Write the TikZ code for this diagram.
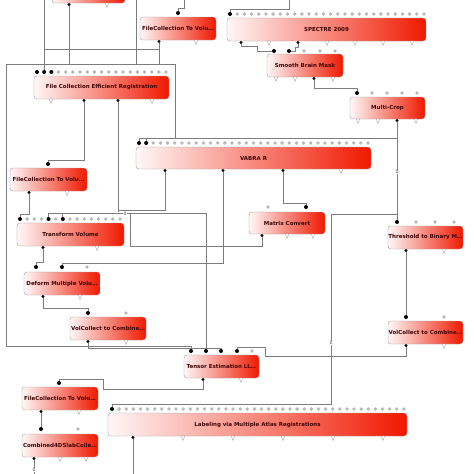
\documentclass[tikz,border=0pt]{standalone}
\usepackage{fontspec}
\setsansfont{DejaVu Sans}
\definecolor{modred}{RGB}{240,24,0}
\definecolor{modtxt}{RGB}{64,4,4}
\definecolor{wirecol}{RGB}{125,125,125}
\tikzset{
  module/.style={draw=gray!75, rounded corners=3pt, left color=red!3, right color=modred,
    font=\sffamily\bfseries\fontsize{5.5}{6}\selectfont, text=modtxt, inner sep=0pt},
  wire/.style={draw=wirecol, line width=0.7pt},
  inport/.style={circle, fill=black, inner sep=0pt, minimum size=4pt},
  outport/.style={circle, fill=black, inner sep=0pt, minimum size=3.2pt},
  free/.style={fill=gray!55},
  zero/.style={font=\sffamily\fontsize{4.6}{5}\selectfont, fill=white, inner sep=0.3pt, text=black!75},
  otri/.pic={\draw[gray!70, fill=white, line width=0.4pt] (-1.7,0) -- (1.7,0) -- (0,4.5) -- cycle;}
}
% module box from (x1,y1) to (x2,y2)
\newcommand\module[6]{\node[module, minimum width={#4-#2}, minimum height={#5-#3}] (#1) at ({(#2+#4)/2},{(#3+#5)/2}) {#6};}

\begin{document}
\begin{tikzpicture}[x=1pt,y=-1pt]
\useasboundingbox (0,0) rectangle (474,474);
\clip (0,0) rectangle (474,474);
\fill[white] (0,0) rectangle (474,474);

% modules
\module{tl}{52}{-20}{125}{3}{}
\module{fcv1}{140}{17}{216}{40}{FileCollection To Volu…}
\module{spec}{227}{18}{426}{41}{SPECTRE 2009}
\module{smooth}{267}{54}{343}{77}{Smooth Brain Mask}
\module{mc}{350}{97}{425}{119}{Multi-Crop}
\module{fcer}{34}{76}{169}{99}{File Collection Efficient Registration}
\module{vabra}{136}{147}{371}{169}{VABRA R}
\module{fcv2}{10}{168}{87}{191}{FileCollection To Volu…}
\module{tv}{17}{223}{124}{246}{Transform Volume}
\module{matrix}{249}{212}{325}{234}{Matrix Convert}
\module{thr}{388}{226}{463}{249}{Threshold to Binary M…}
\module{deform}{24}{272}{100}{295}{Deform Multiple Volu…}
\module{vcl}{70}{317}{146}{340}{VolCollect to Combine…}
\module{vcr}{388}{321}{463}{344}{VolCollect to Combine…}
\module{tens}{184}{355}{259}{378}{Tensor Estimation LL…}
\module{fcv3}{22}{387}{98}{410}{FileCollection To Volu…}
\module{comb}{22}{434}{98}{457}{Combined4DSlabColle…}
\module{lab}{108}{413}{407}{436}{Labeling via Multiple Atlas Registrations}

% free input ports
\foreach \i in {0,...,27} \fill[free] ({230+7.185*\i},14) circle (1.9);
\foreach \i in {0,...,18} \fill[free] ({37+7.17*\i},72) circle (1.9);
\foreach \i in {0,...,32} \fill[free] ({139+7.156*\i},143) circle (1.9);
\foreach \i in {0,...,14} \fill[free] ({20+7.14*\i},219) circle (1.9);
\foreach \i in {0,...,41} \fill[free] ({112+7.12*\i},409) circle (1.9);
\foreach \x in {304,320,335} \fill[free] (\x,51) circle (1.9);
\foreach \x in {372,387,402,417} \fill[free] (\x,93) circle (1.9);
\foreach \x in {416,435,454} \fill[free] (\x,222) circle (1.9);
\fill[free] (268,207) circle (1.9);
\fill[free] (87,267) circle (1.9);
\fill[free] (126,313) circle (1.9);
\fill[free] (444,317) circle (1.9);
\fill[free] (252,351) circle (1.9);
\fill[free] (78,429) circle (1.9);

% connected input ports
\node[inport] (fcv1-i) at (178,13) {};
\node[inport] (spec-i) at (230,14) {};
\node[inport] (smooth-i1) at (274,51) {};
\node[inport] (smooth-i2) at (289,51) {};
\node[inport] (mc-i) at (357,93) {};
\node[inport] (fcer-i1) at (37,72) {};
\node[inport] (fcer-i2) at (44.17,72) {};
\node[inport] (fcer-i3) at (51.34,72) {};
\node[inport] (vabra-i1) at (139,143) {};
\node[inport] (vabra-i2) at (146.16,143) {};
\node[inport] (fcv2-i) at (48,164) {};
\node[inport] (tv-i1) at (20,219) {};
\node[inport] (tv-i2) at (48.56,219) {};
\node[inport] (tv-i3) at (62.84,219) {};
\node[inport] (matrix-i) at (306,207) {};
\node[inport] (thr-i) at (397,222) {};
\node[inport] (deform-i1) at (36,267) {};
\node[inport] (deform-i2) at (62,267) {};
\node[inport] (vcl-i) at (88,313) {};
\node[inport] (vcr-i) at (406,317) {};
\node[inport] (tens-i1) at (191,351) {};
\node[inport] (tens-i2) at (206,351) {};
\node[inport] (tens-i3) at (221,351) {};
\node[inport] (tens-i4) at (237,351) {};
\node[inport] (fcv3-i) at (59,383) {};
\node[inport] (comb-i) at (41,429) {};
\node[inport] (lab-i) at (112,409) {};

% output triangles
\pic at (107,3) {otri};
\pic at (196,40) {otri};
\foreach \x in {269,327,355,383,412} \pic at (\x,41) {otri};
\foreach \x in {276,295,333} \pic at (\x,77) {otri};
\foreach \x in {358,378,416} \pic at (\x,119) {otri};
\foreach \x in {51,152} \pic at (\x,99) {otri};
\pic at (341,169) {otri};
\pic at (67,191) {otri};
\pic at (97,246) {otri};
\foreach \x in {287,313} \pic at (\x,234) {otri};
\pic at (444,249) {otri};
\pic at (80,295) {otri};
\pic at (126,340) {otri};
\pic at (444,344) {otri};
\pic at (241,378) {otri};
\pic at (79,410) {otri};
\foreach \x in {60,86} \pic at (\x,457) {otri};
\foreach \x in {183,233,283,333,383} \pic at (\x,436) {otri};

% connected outputs
\node[outport] (tl-o) at (69,4.5) {};
\node[outport] (fcv1-o) at (159,41.5) {};
\node[outport] (spec-o1) at (241,42.5) {};
\node[outport] (spec-o2) at (298,42.5) {};
\node[outport] (smooth-o) at (314,78.5) {};
\node[outport] (mc-o) at (397,120.5) {};
\node[outport] (fcer-o1) at (84,100.5) {};
\node[outport] (fcer-o2) at (118,100.5) {};
\node[outport] (vabra-o1) at (165,170.5) {};
\node[outport] (vabra-o2) at (223,170.5) {};
\node[outport] (vabra-o3) at (283,170.5) {};
\node[outport] (fcv2-o) at (29,192.5) {};
\node[outport] (tv-o) at (43,247.5) {};
\node[outport] (matrix-o) at (262,235.5) {};
\node[outport] (thr-o) at (406,250.5) {};
\node[outport] (deform-o) at (43,296.5) {};
\node[outport] (vcl-o) at (88,341.5) {};
\node[outport] (vcr-o) at (406,345.5) {};
\node[outport] (tens-o) at (203,379.5) {};
\node[outport] (fcv3-o) at (41,411.5) {};
\node[outport] (comb-o) at (34,458.5) {};
\node[outport] (lab-o) at (133,437.5) {};

% group frame
\draw[wire] (175,138) -- (175,64) -- (6,64) -- (6,346) -| (tens-i1);

% connectors
\draw[wire] (tl-o) -- (69,64);
\draw[wire] (fcer-i2 |- 0,0) -- (fcer-i2);
\draw[wire] (136,0) -- (136,64);
\draw[wire] (fcv1-o) -- (159,64) (159,49) -- (44.17,49);
\draw[wire] (184,0) |- (178,8) -- (fcv1-i);
\draw[wire] (289,0) |- (230,9) -- (spec-i);
\draw[wire] (spec-o1) |- (257,46) |- (smooth-i1);
\draw[wire] (spec-o2) |- (295,47) |- (smooth-i2);
\draw[wire] (smooth-o) |- (357,88) -- (mc-i);
\draw[wire] (mc-o) -- (thr-i);
\draw[wire] (397,138) -| (vabra-i1) (146.16,138) -- (vabra-i2);
\draw[wire] (397,214) -| (331,404) -| (lab-i);
\draw[wire] (fcer-o1) |- (48,160) -- (fcv2-i);
\draw[wire] (fcer-o2) -- (118,212);
\draw[wire] (vabra-o1) |- (118,210);
\draw[wire] (tv-i2) |- (206,213) -- (tens-i2);
\draw[wire] (tv-i3) -- (62.84,213);
\draw[wire] (fcv2-o) |- (20,214) -- (tv-i1);
\draw[wire] (matrix-o) |- (130,246) -- (130,213);
\draw[wire] (vabra-o2) |- (62,263) -- (deform-i2);
\draw[wire] (vabra-o3) |- (306,203) -- (matrix-i);
\draw[wire] (tv-o) |- (36,262) -- (deform-i1);
\draw[wire] (deform-o) |- (88,308) -- (vcl-i);
\draw[wire] (vcl-o) |- (221,348) -- (tens-i3);
\draw[wire] (thr-o) -- (vcr-i);
\draw[wire] (vcr-o) |- (265,356) |- (237,347) -- (tens-i4);
\draw[wire] (tens-o) |- (103,389) |- (59,379) -- (fcv3-i);
\draw[wire] (fcv3-o) -- (comb-i);
\draw[wire] (comb-o) -- (34,474);
\draw[wire] (lab-o) -- (133,474);

% zero marks
\node[zero] at (125,214) {0};
\node[zero] at (397,172) {0};
\node[zero] at (331,343) {0};
\node[zero] at (34,470) {0};
\end{tikzpicture}
\end{document}
